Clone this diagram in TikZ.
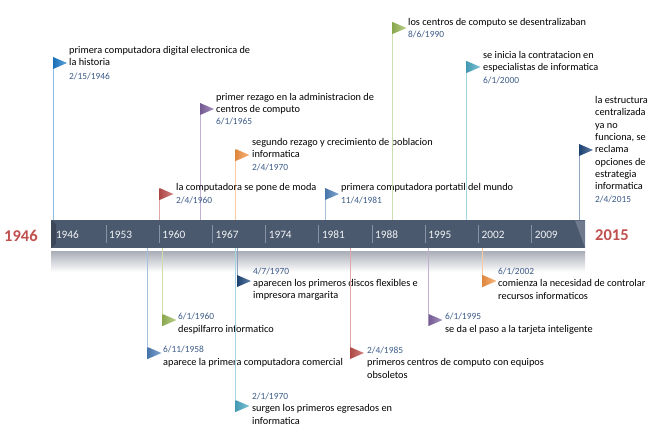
\documentclass[tikz,border=0pt]{standalone}
\usepackage{fontspec}
\setmainfont{Carlito}
\definecolor{cBright}{HTML}{1C7CCC}
\definecolor{cBlue}{HTML}{4F81BD}
\definecolor{cPurple}{HTML}{8064A2}
\definecolor{cOrange}{HTML}{F79646}
\definecolor{cRed}{HTML}{C0504D}
\definecolor{cGreen}{HTML}{9BBB59}
\definecolor{cCyan}{HTML}{4BACC6}
\definecolor{cNavy}{HTML}{1F497D}
\definecolor{barcol}{HTML}{4B596F}
\definecolor{sepcol}{HTML}{8894A6}
\definecolor{datecol}{HTML}{3B5A88}
\definecolor{bigred}{HTML}{C0504D}
\newcommand\dt[1]{{\fontsize{9.4}{12.3}\selectfont\color{datecol}#1}}
\newcommand\flagup[4]{% name, x, top, colour
  \coordinate (#1) at (#2,#3);
  \draw[pole, #4!50!white] (#1) -- (#1 |- bar.north);
  \shade[left color=#4!90!black, right color=#4!70!white] (#1) -- ++(14,6) -- ++(-14,6) -- cycle;
}
\newcommand\flagdn[4]{% name, x, top, colour
  \coordinate (#1) at (#2,#3);
  \draw[pole, #4!50!white] (#1 |- bar.south) -- ([yshift=-12pt]#1);
  \shade[left color=#4!90!black, right color=#4!70!white] (#1) -- ++(14,6) -- ++(-14,6) -- cycle;
}
\begin{document}
\begin{tikzpicture}[x=1pt,y=-1pt,
  evtext/.style={anchor=west, align=left, inner sep=0pt, text=black,
    font=\fontsize{10.3}{12.3}\selectfont},
  pole/.style={line width=0.9pt},
  barbox/.style={fill=barcol, draw=none, minimum width=534pt, minimum height=28pt, inner sep=0pt},
  barlabel/.style={anchor=west, inner sep=0pt, text=white!92!barcol, font=\fontsize{11.3}{13}\selectfont},
  bigyear/.style={anchor=west, inner sep=0pt, text=bigred, font=\fontsize{16.5}{18}\selectfont\bfseries},
  sepline/.style={draw=sepcol, line width=0.8pt}]
\useasboundingbox (0,0) rectangle (653,436);
% shadow below the bar
\shade[top color={rgb,255:red,168;green,172;blue,182}, bottom color=white] (51,251) rectangle (585,272);
% bar
\node[barbox] (bar) at (318,234) {};
\fill[barcol!80!white] (575,220.5) -- (585,220.5) -- (585,247.5) -- cycle;
\fill[barcol!80!black] (51,220) -- (56,224) -- (56,244) -- (51,248) -- cycle;
\foreach \i in {1,...,9} {\draw[sepline] (52.8+53.2*\i,225) -- (52.8+53.2*\i,243);}
\foreach \y [count=\i from 0] in {1946,1953,1960,1967,1974,1981,1988,1995,2002,2009}
  {\node[barlabel] (bl\y) at (55.8+53.2*\i,235) {\y};}
\node[bigyear] (ystart) at (4,236) {1946};
\node[bigyear] (yend) at (595,235) {2015};
% events above
\flagup{f1946}{53}{57}{cBright}
\node[evtext] (t1946) at (69,63) {primera computadora digital electronica de\\la historia\\[1.5pt]\dt{2/15/1946}};
\flagup{f1965}{200}{103}{cPurple}
\node[evtext] (t1965) at (216,109) {primer rezago en la administracion de\\centros de computo\\\dt{6/1/1965}};
\flagup{f1970a}{235.5}{149}{cOrange}
\node[evtext] (t1970a) at (252,154.5) {segundo rezago y crecimiento de poblacion\\informatica\\\dt{2/4/1970}};
\flagup{f1960a}{159.5}{188}{cRed}
\node[evtext] (t1960a) at (176,193.5) {la computadora se pone de moda\\\dt{2/4/1960}};
\flagup{f1981}{325}{188}{cBlue}
\node[evtext] (t1981) at (341,193.5) {primera computadora portatil del mundo\\\dt{11/4/1981}};
\flagup{f1990}{392.5}{22}{cGreen}
\node[evtext] (t1990) at (408,28) {los centros de computo se desentralizaban\\\dt{8/6/1990}};
\flagup{f2000}{466.5}{61}{cCyan}
\node[evtext] (t2000) at (483,67.5) {se inicia la contratacion en\\especialistas de informatica\\\dt{6/1/2000}};
\flagup{f2015}{579}{144}{cNavy}
\node[evtext] (t2015) at (595,149.5) {la estructura\\centralizada\\ya no\\funciona, se\\reclama\\opciones de\\estrategia\\informatica\\\dt{2/4/2015}};
% events below
\flagdn{f1970b}{237}{275}{cNavy}
\node[evtext] (t1970b) at (253,284) {\dt{4/7/1970}\\aparecen los primeros discos flexibles e\\impresora margarita};
\flagdn{f1960b}{162.5}{314}{cGreen}
\node[evtext] (t1960b) at (178,323.5) {\dt{6/1/1960}\\despilfarro informatico};
\flagdn{f1958}{147.5}{347}{cBlue}
\node[evtext] (t1958) at (163,356.5) {\dt{6/11/1958}\\aparece la primera computadora comercial};
\flagdn{f1985}{350}{347}{cRed}
\node[evtext] (t1985) at (367,362.5) {\dt{2/4/1985}\\primeros centros de computo con equipos\\obsoletos};
\flagdn{f1970c}{235.5}{400}{cCyan}
\node[evtext] (t1970c) at (252,408.5) {\dt{2/1/1970}\\surgen los primeros egresados en\\informatica};
\flagdn{f2002}{482.5}{275}{cOrange}
\node[evtext] (t2002) at (498,283.5) {\dt{6/1/2002}\\comienza la necesidad de controlar\\recursos informaticos};
\flagdn{f1995}{428.5}{314}{cPurple}
\node[evtext] (t1995) at (445,323.5) {\dt{6/1/1995}\\se da el paso a la tarjeta inteligente};
\end{tikzpicture}
\end{document}
